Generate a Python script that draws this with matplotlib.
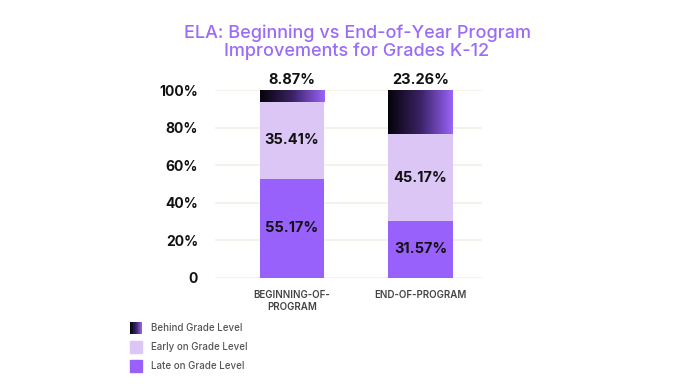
import numpy as np
import matplotlib
matplotlib.use("Agg")
import matplotlib.pyplot as plt
from matplotlib.colors import LinearSegmentedColormap
from matplotlib.patches import Rectangle

plt.rcParams['font.family'] = ['Inter', 'DejaVu Sans']

# data
categories = ["BEGINNING-OF-\nPROGRAM", "END-OF-PROGRAM"]
late_vals = [52.8, 30.5]
early_vals = [41.0, 45.9]
behind_vals = [6.2, 23.6]
late_labels = ["55.17%", "31.57%"]
early_labels = ["35.41%", "45.17%"]
behind_labels = ["8.87%", "23.26%"]
yticks = [0, 20, 40, 60, 80, 100]
ytick_labels = ["0", "20%", "40%", "60%", "80%", "100%"]
legend_names = ["Behind Grade Level", "Early on Grade Level", "Late on Grade Level"]

LATE = "#9961fb"
EARLY = "#dbc6f5"
TITLE = "#9b6cf6"
grad = LinearSegmentedColormap.from_list("behind", ["#050308", "#3a2266", "#9a64f8"])

fig = plt.figure(figsize=(7, 3.92), dpi=100)
ax = fig.add_axes([0.307, 0.291, 0.382, 0.479])

x = np.arange(len(categories))
w = 0.5
late_vals = np.array(late_vals)
early_vals = np.array(early_vals)
behind_vals = np.array(behind_vals)

ax.bar(x, late_vals, w, color=LATE, zorder=2)
ax.bar(x, early_vals, w, bottom=late_vals, color=EARLY, zorder=2)
bars = ax.bar(x, behind_vals, w, bottom=late_vals + early_vals, color="none", zorder=2)

# gradient fill for the top segment
g = np.linspace(0, 1, 256).reshape(1, -1)
for b in bars:
    x0, y0 = b.get_x(), b.get_y()
    ax.imshow(g, cmap=grad, aspect="auto", zorder=2,
              extent=[x0, x0 + b.get_width(), y0, y0 + b.get_height()])

for i in range(len(x)):
    ax.text(x[i], late_vals[i] / 2, late_labels[i], ha="center", va="center",
            fontsize=10.5, fontweight="bold", color="#111111", zorder=3)
    ax.text(x[i], late_vals[i] + early_vals[i] / 2, early_labels[i], ha="center", va="center",
            fontsize=10.5, fontweight="bold", color="#111111", zorder=3)
    ax.text(x[i], 101.5, behind_labels[i], ha="center", va="bottom",
            fontsize=10.5, fontweight="bold", color="#111111", zorder=3)

ax.set_xlim(-0.6, 1.48)
ax.set_ylim(0, 100)
ax.set_yticks(yticks)
ax.set_yticklabels(ytick_labels, fontsize=10, fontweight="bold", color="#111111")
ax.tick_params(axis="y", length=0, pad=12)
ax.set_xticks(x)
ax.set_xticklabels(categories, fontsize=7, color="#444444", fontweight="semibold",
                   linespacing=1.25)
ax.tick_params(axis="x", length=0, pad=9)
ax.grid(axis="y", color="#f1f0e8", linewidth=1.2, zorder=0)
ax.set_axisbelow(True)
for s in ax.spines.values():
    s.set_visible(False)

fig.text(0.51, 0.893, "ELA: Beginning vs End-of-Year Program\nImprovements for Grades K-12",
         ha="center", va="center", fontsize=13, color=TITLE, fontweight="medium",
         linespacing=1.05)

# legend drawn as squares with text
sq = 11.5 / 700
sq_h = 11.5 / 392
leg_y = [1 - 328 / 392, 1 - 347 / 392, 1 - 366 / 392]
for k, name in enumerate(legend_names):
    x0 = 130 / 700
    y0 = leg_y[k] - sq_h / 2
    if k == 0:
        lax = fig.add_axes([x0, y0, sq, sq_h])
        lax.imshow(g, cmap=grad, aspect="auto")
        lax.axis("off")
    else:
        fig.patches.append(Rectangle((x0, y0), sq, sq_h, transform=fig.transFigure,
                                     color=EARLY if k == 1 else LATE))
    fig.text(151 / 700, leg_y[k], name, ha="left", va="center", fontsize=7,
             color="#555555", fontweight="medium")

fig.savefig("out.png", dpi=100)
